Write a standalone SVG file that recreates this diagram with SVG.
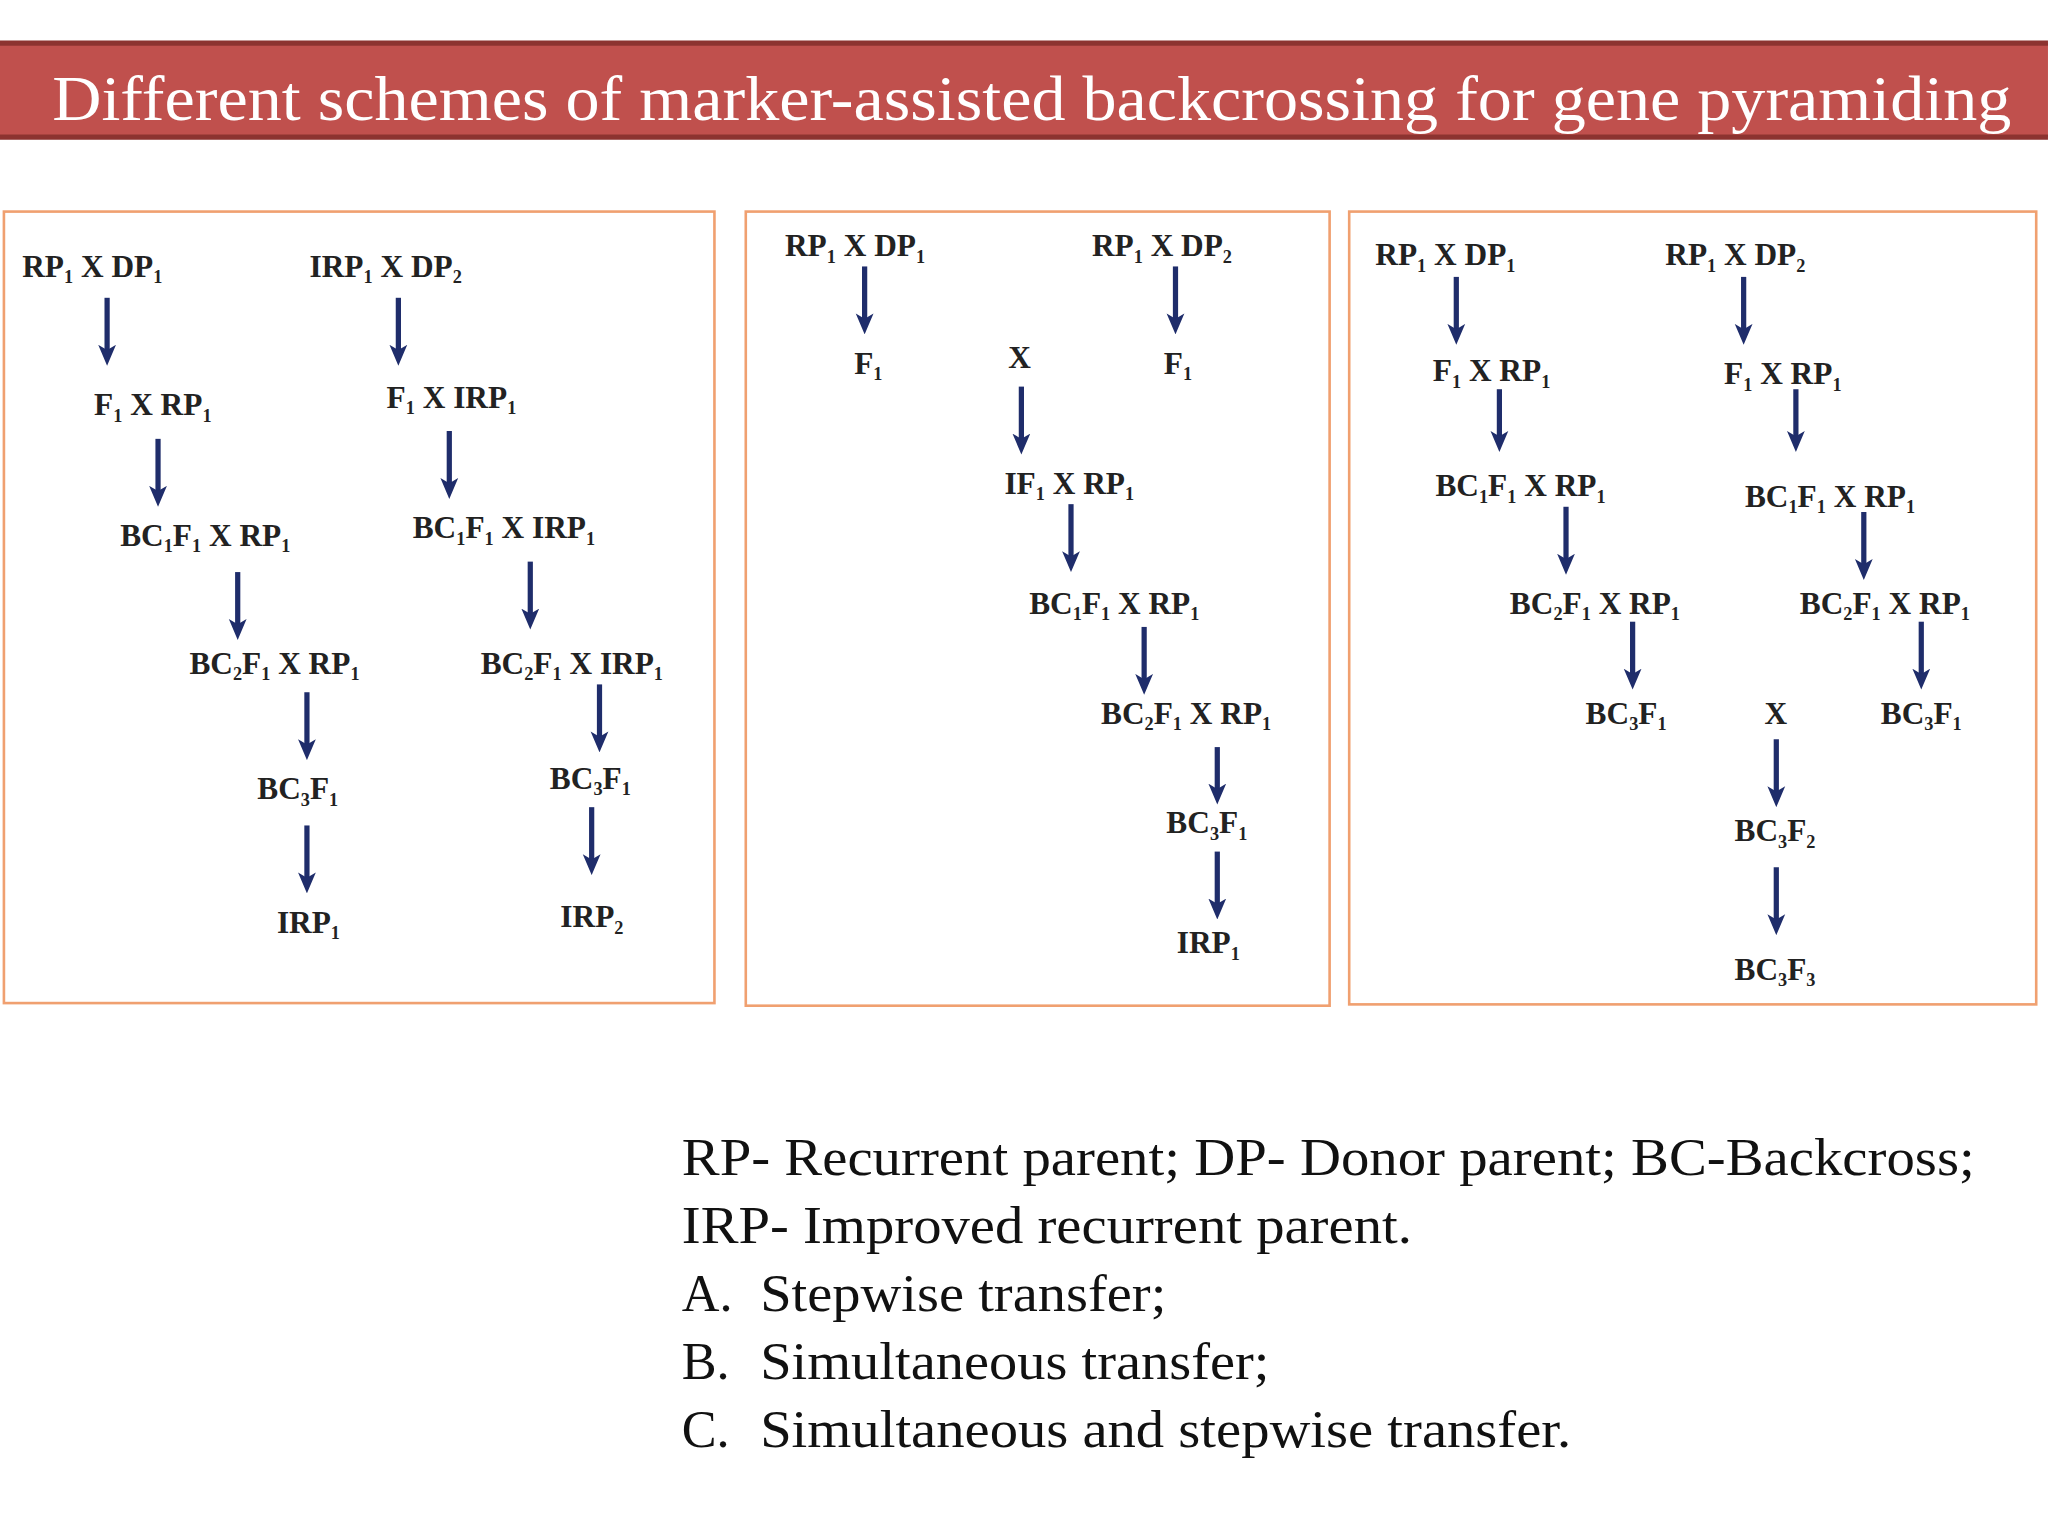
<svg xmlns="http://www.w3.org/2000/svg" width="2048" height="1536" viewBox="0 0 2048 1536">
<style>
.t{font-family:"Liberation Serif",serif;font-weight:bold;font-size:24px;fill:#222}
.s{font-size:14px}
.box{fill:#fff;stroke:#f0a070;stroke-width:2}
.ar{stroke:#1f2d6b;stroke-width:4;fill:none;marker-end:url(#ah)}
.lg{font-family:"Liberation Serif",serif;font-size:40px;fill:#111}
</style>
<defs>
<marker id="ah" markerWidth="4" markerHeight="4" refX="2" refY="2" orient="auto" markerUnits="strokeWidth">
<path d="M0,0.3 L4,2 L0,3.7 L1,2 Z" fill="#1f2d6b"/>
</marker>
</defs>
<rect width="2048" height="1536" fill="#fff"/>
<g transform="scale(1.3061)">
<g id="title">
<rect x="0" y="33" width="1568" height="72" fill="#c0504d"/>
<rect x="0" y="31" width="1568" height="4" fill="#8c3330"/>
<rect x="0" y="103" width="1568" height="4" fill="#8c3330"/>
<text x="40" y="92" font-family="Liberation Serif,serif" font-size="48" fill="#fff" textLength="1500" lengthAdjust="spacingAndGlyphs">Different schemes of marker-assisted backcrossing for gene pyramiding</text>
</g>
<g id="panelA"><rect class="box" x="3" y="162" width="544" height="606"/></g>
<g id="panelB"><rect class="box" x="571" y="162" width="447" height="608"/></g>
<g id="panelC"><rect class="box" x="1033" y="162" width="526" height="607"/></g>
<g id="labels" xml:space="preserve">
<text class="t" x="17" y="212">RP<tspan class="s" dy="5">1</tspan><tspan dy="-5">  X  DP</tspan><tspan class="s" dy="5">1</tspan></text>
<text class="t" x="237" y="212">IRP<tspan class="s" dy="5">1</tspan><tspan dy="-5"> X  DP</tspan><tspan class="s" dy="5">2</tspan></text>
<text class="t" x="72" y="318">F<tspan class="s" dy="5">1</tspan><tspan dy="-5">  X  RP</tspan><tspan class="s" dy="5">1</tspan></text>
<text class="t" x="296" y="312">F<tspan class="s" dy="5">1</tspan><tspan dy="-5">  X   IRP</tspan><tspan class="s" dy="5">1</tspan></text>
<text class="t" x="92" y="418">BC<tspan class="s" dy="5">1</tspan><tspan dy="-5">F</tspan><tspan class="s" dy="5">1</tspan><tspan dy="-5">  X  RP</tspan><tspan class="s" dy="5">1</tspan></text>
<text class="t" x="316" y="412">BC<tspan class="s" dy="5">1</tspan><tspan dy="-5">F</tspan><tspan class="s" dy="5">1</tspan><tspan dy="-5">  X  IRP</tspan><tspan class="s" dy="5">1</tspan></text>
<text class="t" x="145" y="516">BC<tspan class="s" dy="5">2</tspan><tspan dy="-5">F</tspan><tspan class="s" dy="5">1</tspan><tspan dy="-5">  X  RP</tspan><tspan class="s" dy="5">1</tspan></text>
<text class="t" x="368" y="516">BC<tspan class="s" dy="5">2</tspan><tspan dy="-5">F</tspan><tspan class="s" dy="5">1</tspan><tspan dy="-5">  X IRP</tspan><tspan class="s" dy="5">1</tspan></text>
<text class="t" x="197" y="612">BC<tspan class="s" dy="5">3</tspan><tspan dy="-5">F</tspan><tspan class="s" dy="5">1</tspan></text>
<text class="t" x="421" y="604">BC<tspan class="s" dy="5">3</tspan><tspan dy="-5">F</tspan><tspan class="s" dy="5">1</tspan></text>
<text class="t" x="212" y="714">IRP<tspan class="s" dy="5">1</tspan></text>
<text class="t" x="429" y="710">IRP<tspan class="s" dy="5">2</tspan></text>

<text class="t" x="601" y="196">RP<tspan class="s" dy="5">1</tspan><tspan dy="-5"> X   DP</tspan><tspan class="s" dy="5">1</tspan></text>
<text class="t" x="836" y="196">RP<tspan class="s" dy="5">1</tspan><tspan dy="-5"> X   DP</tspan><tspan class="s" dy="5">2</tspan></text>
<text class="t" x="654" y="286">F<tspan class="s" dy="5">1</tspan></text>
<text class="t" x="772" y="282">X</text>
<text class="t" x="891" y="286">F<tspan class="s" dy="5">1</tspan></text>
<text class="t" x="769" y="378">IF<tspan class="s" dy="5">1</tspan><tspan dy="-5">  X   RP</tspan><tspan class="s" dy="5">1</tspan></text>
<text class="t" x="788" y="470">BC<tspan class="s" dy="5">1</tspan><tspan dy="-5">F</tspan><tspan class="s" dy="5">1</tspan><tspan dy="-5">  X  RP</tspan><tspan class="s" dy="5">1</tspan></text>
<text class="t" x="843" y="554">BC<tspan class="s" dy="5">2</tspan><tspan dy="-5">F</tspan><tspan class="s" dy="5">1</tspan><tspan dy="-5">  X RP</tspan><tspan class="s" dy="5">1</tspan></text>
<text class="t" x="893" y="638">BC<tspan class="s" dy="5">3</tspan><tspan dy="-5">F</tspan><tspan class="s" dy="5">1</tspan></text>
<text class="t" x="901" y="730">IRP<tspan class="s" dy="5">1</tspan></text>

<text class="t" x="1053" y="203">RP<tspan class="s" dy="5">1</tspan><tspan dy="-5">  X  DP</tspan><tspan class="s" dy="5">1</tspan></text>
<text class="t" x="1275" y="203">RP<tspan class="s" dy="5">1</tspan><tspan dy="-5">  X   DP</tspan><tspan class="s" dy="5">2</tspan></text>
<text class="t" x="1097" y="292">F<tspan class="s" dy="5">1</tspan><tspan dy="-5">   X   RP</tspan><tspan class="s" dy="5">1</tspan></text>
<text class="t" x="1320" y="294">F<tspan class="s" dy="5">1</tspan><tspan dy="-5">   X   RP</tspan><tspan class="s" dy="5">1</tspan></text>
<text class="t" x="1099" y="380">BC<tspan class="s" dy="5">1</tspan><tspan dy="-5">F</tspan><tspan class="s" dy="5">1</tspan><tspan dy="-5">    X   RP</tspan><tspan class="s" dy="5">1</tspan></text>
<text class="t" x="1336" y="388">BC<tspan class="s" dy="5">1</tspan><tspan dy="-5">F</tspan><tspan class="s" dy="5">1</tspan><tspan dy="-5">  X   RP</tspan><tspan class="s" dy="5">1</tspan></text>
<text class="t" x="1156" y="470">BC<tspan class="s" dy="5">2</tspan><tspan dy="-5">F</tspan><tspan class="s" dy="5">1</tspan><tspan dy="-5">   X   RP</tspan><tspan class="s" dy="5">1</tspan></text>
<text class="t" x="1378" y="470">BC<tspan class="s" dy="5">2</tspan><tspan dy="-5">F</tspan><tspan class="s" dy="5">1</tspan><tspan dy="-5">   X  RP</tspan><tspan class="s" dy="5">1</tspan></text>
<text class="t" x="1214" y="554">BC<tspan class="s" dy="5">3</tspan><tspan dy="-5">F</tspan><tspan class="s" dy="5">1</tspan></text>
<text class="t" x="1351" y="554">X</text>
<text class="t" x="1440" y="554">BC<tspan class="s" dy="5">3</tspan><tspan dy="-5">F</tspan><tspan class="s" dy="5">1</tspan></text>
<text class="t" x="1328" y="644">BC<tspan class="s" dy="5">3</tspan><tspan dy="-5">F</tspan><tspan class="s" dy="5">2</tspan></text>
<text class="t" x="1328" y="750">BC<tspan class="s" dy="5">3</tspan><tspan dy="-5">F</tspan><tspan class="s" dy="5">3</tspan></text>
</g>
<g id="connectors">
<path class="ar" d="M82,228V272"/><path class="ar" d="M305,228V272"/>
<path class="ar" d="M121,336V380"/><path class="ar" d="M344,330V374"/>
<path class="ar" d="M182,438V482"/><path class="ar" d="M406,430V474"/>
<path class="ar" d="M235,530V574"/><path class="ar" d="M459,524V568"/>
<path class="ar" d="M235,632V676"/><path class="ar" d="M453,618V662"/>
<path class="ar" d="M662,204V248"/><path class="ar" d="M900,204V248"/>
<path class="ar" d="M782,296V340"/><path class="ar" d="M820,386V430"/>
<path class="ar" d="M876,480V524"/><path class="ar" d="M932,572V608"/>
<path class="ar" d="M932,652V696"/>
<path class="ar" d="M1115,212V256"/><path class="ar" d="M1335,212V256"/>
<path class="ar" d="M1148,298V338"/><path class="ar" d="M1375,298V338"/>
<path class="ar" d="M1199,388V432"/><path class="ar" d="M1427,392V436"/>
<path class="ar" d="M1250,476V520"/><path class="ar" d="M1471,476V520"/>
<path class="ar" d="M1360,566V610"/><path class="ar" d="M1360,664V708"/>
</g>
<g id="legend">
<text class="lg" x="522" y="900" textLength="990" lengthAdjust="spacingAndGlyphs">RP- Recurrent parent; DP- Donor parent; BC-Backcross;</text>
<text class="lg" x="522" y="952" textLength="559" lengthAdjust="spacingAndGlyphs">IRP- Improved recurrent parent.</text>
<text class="lg" x="522" y="1004">A.</text><text class="lg" x="582" y="1004" textLength="311" lengthAdjust="spacingAndGlyphs">Stepwise transfer;</text>
<text class="lg" x="522" y="1056">B.</text><text class="lg" x="582" y="1056" textLength="390" lengthAdjust="spacingAndGlyphs">Simultaneous transfer;</text>
<text class="lg" x="522" y="1108">C.</text><text class="lg" x="582" y="1108" textLength="621" lengthAdjust="spacingAndGlyphs">Simultaneous and stepwise transfer.</text>
</g>
</g>
</svg>
